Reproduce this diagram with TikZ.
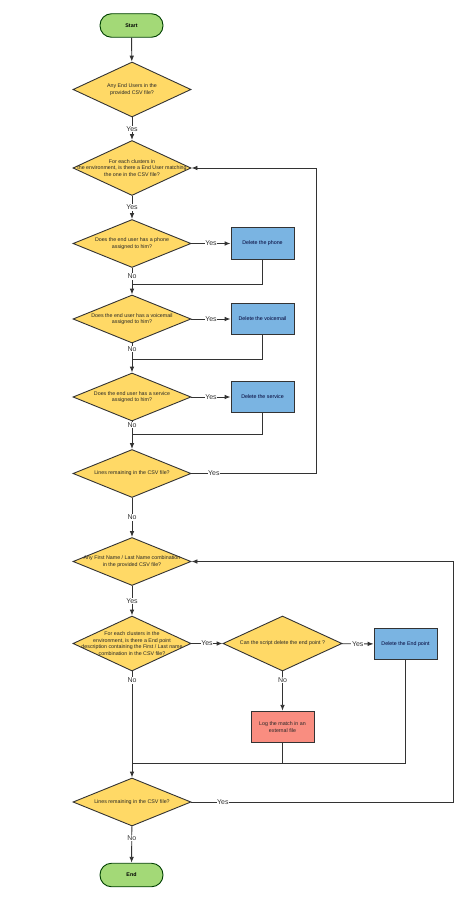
\documentclass[tikz,border=0pt]{standalone}
\usepackage{fontspec}
\setmainfont{Liberation Sans}
\usetikzlibrary{arrows.meta,shapes.geometric}
\definecolor{decfill}{HTML}{FFD966}
\definecolor{termfill}{HTML}{A3D977}
\definecolor{actfill}{HTML}{7AB4E2}
\definecolor{logfill}{HTML}{F98D80}
\definecolor{edge}{HTML}{333333}
\tikzset{yn/.style={draw=none, fill=white, inner sep=0.6pt, text=edge,
  font=\fontsize{7}{8}\selectfont}}

\begin{document}
\begin{tikzpicture}[x=1pt, y=-1pt, >={Latex[length=6pt,width=4.6pt]},
  line width=0.9pt, draw=edge,
  term/.style={draw=black!75!green, fill=termfill, rounded corners=11.5pt,
    minimum width=63pt, minimum height=23.5pt, inner sep=0pt,
    font=\fontsize{5.3}{6.6}\selectfont\bfseries},
  dec/.style={diamond, draw=edge, fill=decfill, inner sep=0pt,
    minimum width=118pt, minimum height=48pt},
  bigdec/.style={dec, minimum height=55pt},
  dtxt/.style={align=center, inner sep=0pt, text=black!85,
    font=\fontsize{5.3}{6.6}\selectfont},
  act/.style={rectangle, draw=edge, fill=actfill, minimum width=63pt,
    minimum height=31.5pt, inner sep=1pt, align=center, text=blue!20!black,
    font=\fontsize{5.3}{6.6}\selectfont},
  logbox/.style={act, fill=logfill, text=black!85}]
  \fill[white] (0,0) rectangle (474,901);
  \useasboundingbox (0,0) rectangle (474,901);
  % first part: end users
  \node[term] (start) at (131.5,25.5) {Start};
  \node[bigdec, label={[dtxt]center:Any End Users in the\\provided CSV file?}] (q1) at (132,89.5) {};
  \node[bigdec, label={[dtxt]center:For each clusters in\\the environment, is there a End User matching\\the one in the CSV file?}] (q2) at (132,168) {};
  \node[dec, label={[dtxt]center:Does the end user has a phone\\assigned to him?}] (q3) at (132,243.5) {};
  \node[act] (a1) at (262.5,243.5) {Delete the phone};
  \node[dec, label={[dtxt]center:Does the end user has a voicemail\\assigned to him?}] (q4) at (132,319) {};
  \node[act] (a2) at (262.5,319) {Delete the voicemail};
  \node[dec, label={[dtxt]center:Does the end user has a service\\assigned to him?}] (q5) at (132,397) {};
  \node[act] (a3) at (262.5,397) {Delete the service};
  \node[dec, label={[dtxt]center:Lines remaining in the CSV file?}] (q6) at (132,473.5) {};
  % second part: end points
  \node[dec, label={[dtxt]center:Any First Name / Last Name combination\\in the provided CSV file?}] (q7) at (132,561.5) {};
  \node[bigdec, label={[dtxt]center:For each clusters in the\\environment, is there a End point\\description containing the First / Last name\\combination in the CSV file?}] (q8) at (132,643.5) {};
  \node[bigdec, minimum width=119pt, label={[dtxt]center:Can the script delete the end point ?}] (q9) at (282.5,643.5) {};
  \node[act] (a4) at (405.5,644) {Delete the End point};
  \node[logbox] (a5) at (282.5,727) {Log the match in an\\external file};
  \node[dec, label={[dtxt]center:Lines remaining in the CSV file?}] (q10) at (132,802) {};
  \node[term] (end) at (131.5,875) {End};
  % join and loop points
  \coordinate (j1) at (132,284);
  \coordinate (j2) at (132,359);
  \coordinate (j3) at (132,434);
  \coordinate (j4) at (132,763);
  \coordinate (r1) at (316,473.5);
  \coordinate (r2) at (453,802);
  % connectors
  \draw[->] (start) -- (q1);
  \draw[->] (q1) -- node[yn] {Yes} (q2);
  \draw[->] (q2) -- node[yn] {Yes} (q3);
  \draw[->] (q3) -- node[yn] {Yes} (a1);
  \draw[->] (q3) -- node[yn, pos=0.32] {No} (q4);
  \draw (a1) |- (j1);
  \draw[->] (q4) -- node[yn] {Yes} (a2);
  \draw[->] (q4) -- node[yn, pos=0.2] {No} (q5);
  \draw (a2) |- (j2);
  \draw[->] (q5) -- node[yn] {Yes} (a3);
  \draw[->] (q5) -- node[yn, pos=0.12] {No} (q6);
  \draw (a3) |- (j3);
  \draw[->] (q6) -- node[yn, pos=0.18] {Yes} (r1) |- (q2);
  \draw[->] (q6) -- node[yn] {No} (q7);
  \draw[->] (q7) -- node[yn] {Yes} (q8);
  \draw[->] (q8) -- node[yn] {Yes} (q9);
  \draw[->] (q9) -- node[yn] {Yes} (a4);
  \draw[->] (q9) -- node[yn, pos=0.22] {No} (a5);
  \draw[->] (q8) -- node[yn, pos=0.085] {No} (q10);
  \draw (a4) |- (j4);
  \draw (a5) -- (a5 |- j4);
  \draw[->] (q10) -- node[yn, pos=0.12] {Yes} (r2) |- (q7);
  \draw[->] (q10) -- node[yn, pos=0.32] {No} (end);
\end{tikzpicture}
\end{document}
